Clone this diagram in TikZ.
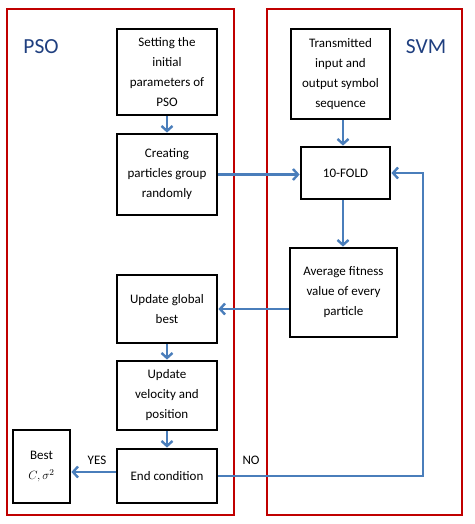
\documentclass[tikz,border=0pt]{standalone}
\usepackage{fontspec}
\setmainfont{Carlito}
\usetikzlibrary{arrows.meta}
\definecolor{frame}{HTML}{C00000}
\definecolor{flowblue}{HTML}{4A7EBB}
\definecolor{title}{HTML}{1F3F7F}
\tikzset{
    stepbox/.style={draw=black, line width=2.8pt, align=center,
        font=\fontsize{13}{20}\selectfont, inner sep=0pt},
    flow/.style={draw=flowblue, line width=2.4pt,
        -{Straight Barb[length=5pt, width=11pt, line width=2.4pt]}},
    panel/.style={draw=frame, line width=2.2pt},
}
\begin{document}
\begin{tikzpicture}[x=1pt, y=-1pt]
    \useasboundingbox (0, 0) rectangle (474, 524);

    % Panels
    \draw[panel] (7, 9) rectangle (234, 515);
    \draw[panel] (267, 9) rectangle (462, 515);
    \node[text=title, font=\fontsize{21.5}{24}\selectfont] (psolabel) at (41, 47) {PSO};
    \node[text=title, font=\fontsize{21.5}{24}\selectfont] (svmlabel) at (426, 47) {SVM};

    % PSO side
    \node[stepbox, minimum width=100, minimum height=86] (init) at (167, 72)
    {Setting the\\initial\\parameters of\\PSO};
    \node[stepbox, minimum width=100, minimum height=81] (create) at (167, 174.5)
    {Creating\\particles group\\randomly};
    \node[stepbox, minimum width=100, minimum height=68] (global) at (167, 309)
    {Update global\\best};
    \node[stepbox, minimum width=100, minimum height=69] (velocity) at (167, 395.5)
    {Update\\velocity and\\position};
    \node[stepbox, minimum width=100, minimum height=54] (endcond) at (167, 476)
    {End condition};
    \node[stepbox, minimum width=57, minimum height=73] (best) at (41.5, 466.5)
    {Best\\$C,\sigma^2$};

    % SVM side
    \node[stepbox, minimum width=99, minimum height=90] (symbols) at (340.5, 74)
    {Transmitted\\input and\\output symbol\\sequence};
    \node[stepbox, minimum width=89, minimum height=52] (fold) at (345.5, 173)
    {10-FOLD};
    \node[stepbox, minimum width=107, minimum height=89] (fitness) at (343.5, 292.5)
    {Average fitness\\value of every\\particle};

    \coordinate (loop) at (423, 0);

    % Connectors
    \draw[flow] (init) -- (create);
    \draw[flow] (global) -- (velocity);
    \draw[flow] (velocity) -- (endcond);
    \draw[flow] (create.east) -- (create.east -| fold.west);
    \draw[flow] (symbols.south -| 343, 0) -- (fold.north -| 343, 0);
    \draw[flow] (fold.south -| 343, 0) -- (fitness.north -| 343, 0);
    \draw[flow] (fitness.west |- global.east) -- (global.east);
    \draw[flow] (endcond.west |- 0, 472) -- (best.east |- 0, 472);
    \draw[flow] (endcond.east) -- (endcond.east -| loop) |- (fold.east);

    \node[font=\fontsize{13}{15}\selectfont] (yes) at (97, 460) {YES};
    \node[font=\fontsize{13}{15}\selectfont] (no) at (251, 460) {NO};
\end{tikzpicture}
\end{document}
